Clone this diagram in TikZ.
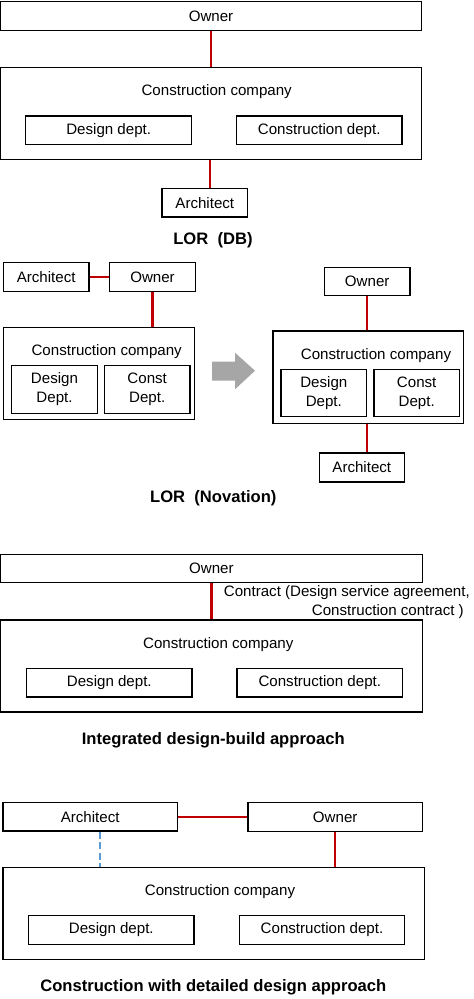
\documentclass[tikz,border=0pt]{standalone}
\usepackage{fontspec}
\setmainfont{Liberation Sans}
\begin{document}
\begin{tikzpicture}[x=1pt,y=-1pt,
  box/.style={draw=black,line width=1.2pt,fill=white,inner sep=0pt,align=center,
    font=\fontsize{15.1}{19}\selectfont},
  txt/.style={inner sep=0pt,align=center,font=\fontsize{15.1}{19}\selectfont},
  lbl/.style={inner sep=0pt,font=\fontsize{16.6}{20}\selectfont\bfseries},
  rel/.style={draw={rgb,255:red,192;green,0;blue,0},line width=2.2pt},
  rel2/.style={draw={rgb,255:red,91;green,155;blue,213},line width=1.6pt,dash pattern=on 7pt off 3.5pt}]
\useasboundingbox (0,0) rectangle (474,999);
% ---------- LOR (DB)
\node[box,minimum width=421pt,minimum height=29pt] (own1) at (211,16) {Owner};
\node[box,minimum width=421pt,minimum height=92pt] (cc1) at (211,113.3) {};
\node[txt] (cc1t) at (216.7,91.7) {Construction company};
\node[box,minimum width=166pt,minimum height=28.7pt] (dd1) at (108.7,130.3) {Design dept.};
\node[box,minimum width=165.7pt,minimum height=28.7pt] (cd1) at (319.2,130.3) {Construction dept.};
\node[box,minimum width=85.7pt,minimum height=28.7pt] (arc1) at (204.8,202.7) {Architect};
\draw[rel] (own1.south) -- (cc1.north);
\draw[rel] (cc1.south -| 210,0) -- (arc1.north -| 210,0);
\node[lbl] (lor1) at (213,240.7) {LOR\ \ (DB)};
% ---------- LOR (Novation)
\node[box,minimum width=85.7pt,minimum height=28.6pt] (arc2) at (46.2,277) {Architect};
\node[box,minimum width=85.6pt,minimum height=28.6pt] (own2) at (152.5,277) {Owner};
\node[box,minimum width=191pt,minimum height=92pt] (cc2) at (98.8,373.3) {};
\node[txt] (cc2t) at (106.7,351.7) {Construction company};
\node[box,minimum width=85.6pt,minimum height=47.6pt] (dd2) at (54.5,389.5) {Design\\Dept.};
\node[box,minimum width=85.7pt,minimum height=47.6pt] (cd2) at (147.2,389.5) {Const\\Dept.};
\draw[rel] (arc2.east) -- (own2.west);
\draw[rel] (own2.south) -- (own2.south |- cc2.north);
\fill[fill={rgb,255:red,166;green,166;blue,166}] (212,361.7) -- (235,361.7) -- (235,352.7) -- (255,370.7) -- (235,389.3) -- (235,380.7) -- (212,380.7) -- cycle;
\node[box,minimum width=85.7pt,minimum height=28pt] (own3) at (367.2,281.3) {Owner};
\node[box,minimum width=190.7pt,minimum height=92.3pt] (cc3) at (368.3,377.2) {};
\node[txt] (cc3t) at (376,356) {Construction company};
\node[box,minimum width=85.7pt,minimum height=47pt] (dd3) at (323.8,393.2) {Design\\Dept.};
\node[box,minimum width=85.3pt,minimum height=47pt] (cd3) at (416.7,393.2) {Const\\Dept.};
\node[box,minimum width=85pt,minimum height=29pt] (arc3) at (361.8,467.5) {Architect};
\draw[rel] (own3.south -| 367.3,0) -- (cc3.north -| 367.3,0);
\draw[rel] (cc3.south -| 367.3,0) -- (arc3.north -| 367.3,0);
\node[lbl] (lor2) at (213.3,498) {LOR\ \ (Novation)};
% ---------- Integrated design-build approach
\node[box,minimum width=421.8pt,minimum height=28.4pt] (own4) at (211.4,568.5) {Owner};
\node[box,minimum width=421.8pt,minimum height=92pt] (cc4) at (211.4,666) {};
\node[txt] (cc4t) at (218.3,644.3) {Construction company};
\node[box,minimum width=165.3pt,minimum height=28.3pt] (dd4) at (109.3,682.8) {Design dept.};
\node[box,minimum width=165.7pt,minimum height=28.3pt] (cd4) at (319.8,682.8) {Construction dept.};
\draw[rel] (own4.south) -- (cc4.north);
\node[txt,align=right,anchor=north east] (ctr) at (470,585) {Contract (Design service agreement,\\Construction contract )\hspace*{6pt}};
\node[lbl] (lab3) at (213.3,740) {Integrated design-build approach};
% ---------- Construction with detailed design approach
\node[box,minimum width=174.3pt,minimum height=28.7pt] (arc5) at (90.2,816.7) {Architect};
\node[box,minimum width=174.3pt,minimum height=29pt] (own5) at (335.2,817.2) {Owner};
\node[box,minimum width=421.7pt,minimum height=92pt] (cc5) at (213.8,913.3) {};
\node[txt] (cc5t) at (220,891.7) {Construction company};
\node[box,minimum width=165.3pt,minimum height=28.6pt] (dd5) at (111.3,930) {Design dept.};
\node[box,minimum width=165.4pt,minimum height=28.6pt] (cd5) at (322,930) {Construction dept.};
\draw[rel] (arc5.east) -- (arc5.east -| own5.west);
\draw[rel] (own5.south) -- (own5.south |- cc5.north);
\draw[rel2] (arc5.south -| 100,0) -- (cc5.north -| 100,0);
\node[lbl] (lab4) at (213.3,987.3) {Construction with detailed design approach};
\end{tikzpicture}
\end{document}
